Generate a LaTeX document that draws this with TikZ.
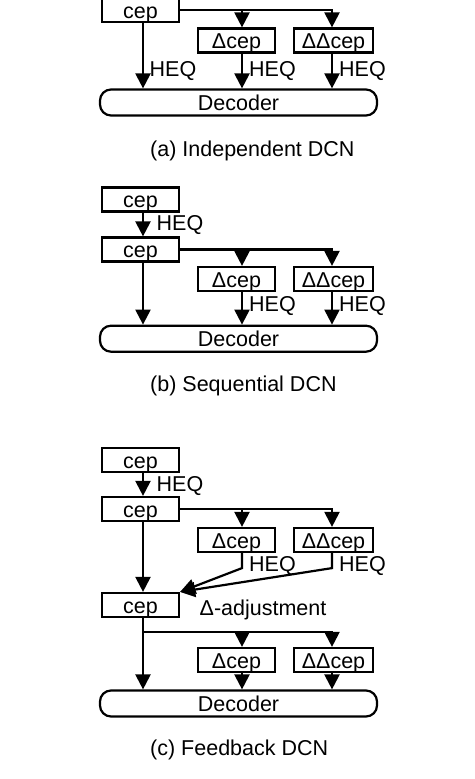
\documentclass[tikz,border=0pt]{standalone}
\usepackage{fontspec}
\setmainfont{Liberation Sans}
\usetikzlibrary{arrows.meta}

\tikzset{
  feat/.style={draw, line width=2.2pt, minimum height=24pt, minimum width=77pt,
    inner sep=0pt, text height=18pt, text depth=2pt},
  dec/.style={draw, line width=2.2pt, rounded corners=11pt, minimum height=26pt,
    minimum width=277pt, inner sep=0pt, text height=18pt, text depth=2pt},
  lbl/.style={anchor=base west, inner sep=0pt},
  conn/.style={line width=2.2pt},
  arr/.style={conn, -{Triangle[length=15pt,width=15pt]}},
}

\begin{document}
\begin{tikzpicture}[x=1pt, y=-1pt, font=\fontsize{21.5}{25}\selectfont]
\useasboundingbox (0,0) rectangle (474,779);
% columns of the arrows
\coordinate (c0) at (143,0);
\coordinate (c1) at (242,0);
\coordinate (c2) at (332,0);

% (a) independent
\node[feat] (cepA) at (140.5,10) {cep};
\node[feat] (dA) at (236.5,40.5) {Δcep};
\node[feat, minimum width=79pt] (ddA) at (333.5,40.5) {ΔΔcep};
\node[dec] (decA) at (238.5,102.5) {Decoder};
\draw[arr] (cepA.east -| c1) -- (dA.north -| c1);
\draw[arr] (cepA.east) -| (ddA.north -| c2);
\draw[arr] (cepA.south -| c0) -- (decA.north -| c0);
\draw[arr] (dA.south -| c1) -- (decA.north -| c1);
\draw[arr] (ddA.south -| c2) -- (decA.north -| c2);
\node[lbl] (heqA0) at (149.5,76) {HEQ};
\node[lbl] (heqA1) at (249,76) {HEQ};
\node[lbl] (heqA2) at (339,76) {HEQ};
\node[lbl] (capA) at (150,156) {(a) Independent DCN};

% (b) sequential
\node[feat] (cepB1) at (140.5,199.5) {cep};
\node[feat] (cepB2) at (140.5,249.5) {cep};
\node[feat] (dB) at (236.5,279) {Δcep};
\node[feat, minimum width=79pt] (ddB) at (333.5,279) {ΔΔcep};
\node[dec] (decB) at (238.5,338.7) {Decoder};
\draw[arr] (cepB1.south -| c0) -- (cepB2.north -| c0);
\draw[arr] (cepB2.east -| c1) -- (dB.north -| c1);
\draw[arr] (cepB2.east) -| (ddB.north -| c2);
\draw[arr] (cepB2.south -| c0) -- (decB.north -| c0);
\draw[arr] (dB.south -| c1) -- (decB.north -| c1);
\draw[arr] (ddB.south -| c2) -- (decB.north -| c2);
\node[lbl] (heqB0) at (156.5,230.7) {HEQ};
\node[lbl] (heqB1) at (249,311) {HEQ};
\node[lbl] (heqB2) at (339,311) {HEQ};
\node[lbl] (capB) at (150,391) {(b) Sequential DCN};

% (c) feedback
\node[feat] (cepC1) at (140.5,460) {cep};
\node[feat] (cepC2) at (140.5,509) {cep};
\node[feat] (dC) at (236.5,540) {Δcep};
\node[feat, minimum width=79pt] (ddC) at (333.5,540) {ΔΔcep};
\node[feat] (cepC3) at (140.5,605) {cep};
\node[feat] (dC2) at (236.5,660) {Δcep};
\node[feat, minimum width=79pt] (ddC2) at (333.5,660) {ΔΔcep};
\node[dec] (decC) at (238.5,703.5) {Decoder};
\coordinate (jC) at (143,632);
\draw[arr] (cepC1.south -| c0) -- (cepC2.north -| c0);
\draw[arr] (cepC2.east -| c1) -- (dC.north -| c1);
\draw[arr] (cepC2.east) -| (ddC.north -| c2);
\draw[arr] (cepC2.south -| c0) -- (cepC3.north -| c0);
\draw[arr] (dC.south -| c1) -- ++(0,15) -- (cepC3.north east);
\draw[arr] (ddC.south -| c2) -- ++(0,15) -- (cepC3.north east);
\draw[arr] (cepC3.south -| c0) -- (decC.north -| c0);
\draw[arr] (jC -| c1) -- (dC2.north -| c1);
\draw[arr] (jC) -| (ddC2.north -| c2);
\draw[arr] (dC2.south -| c1) -- (decC.north -| c1);
\draw[arr] (ddC2.south -| c2) -- (decC.north -| c2);
\node[lbl] (heqC0) at (156.5,491.7) {HEQ};
\node[lbl] (heqC1) at (249,571.7) {HEQ};
\node[lbl] (heqC2) at (339,571.7) {HEQ};
\node[lbl] (adj) at (199.5,615) {Δ-adjustment};
\node[lbl] (capC) at (150,755) {(c) Feedback DCN};
\end{tikzpicture}
\end{document}
